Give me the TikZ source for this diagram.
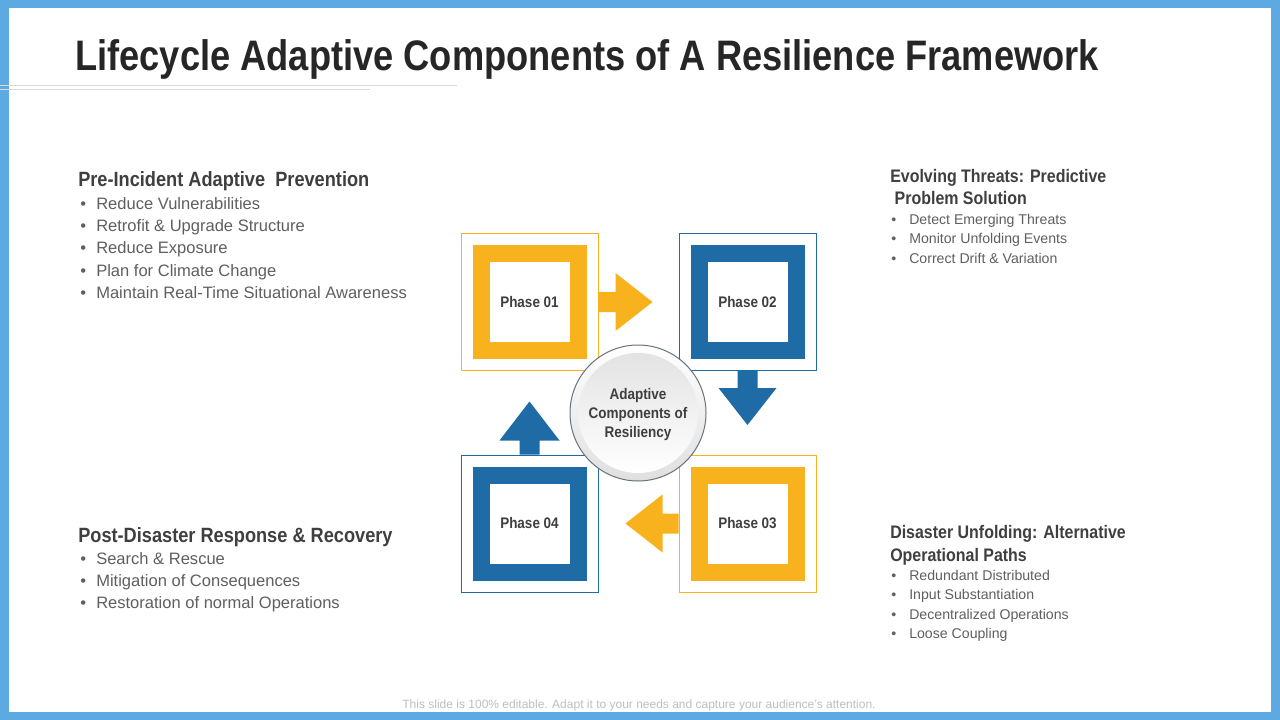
\documentclass[tikz,border=0pt]{standalone}
\usepackage{fontspec}
\setmainfont{Liberation Sans}
\newfontfamily\titlefont{Liberation Sans}[FakeStretch=0.85]
\newfontfamily\condfont{Liberation Sans}[FakeStretch=0.88]
\usetikzlibrary{positioning,calc}
\definecolor{edge}{HTML}{5DA9E1}
\definecolor{gold}{HTML}{F8B21D}
\definecolor{phaseblue}{HTML}{1F6BA5}
\definecolor{ink}{HTML}{3F3F3F}
\definecolor{titleink}{HTML}{262626}
\definecolor{muted}{HTML}{5F5F5F}
\definecolor{rulegray}{HTML}{D9D9D9}
\definecolor{notegray}{HTML}{BFBFBF}
\definecolor{hubline}{HTML}{66737D}

\begin{document}
\begin{tikzpicture}[x=0.75pt,y=-0.75pt,
  outerbox/.style={draw=#1,line width=0.75pt,minimum size=102.75pt,inner sep=0pt},
  phasebox/.style={draw=#1,fill=white,line width=12.75pt,minimum size=72.75pt,inner sep=0pt,
    text=ink,font=\condfont\bfseries\fontsize{11.5}{13}\selectfont},
  bighead/.style={anchor=base west,inner sep=0pt,text=ink,font=\condfont\bfseries\fontsize{15.5}{18}\selectfont},
  smallhead/.style={anchor=base west,inner sep=0pt,text=ink,font=\condfont\bfseries\fontsize{13.6}{16}\selectfont},
  bigitem/.style={anchor=base west,inner sep=0pt,text=muted,font=\fontsize{12.4}{15}\selectfont},
  smallitem/.style={anchor=base west,inner sep=0pt,text=muted,font=\fontsize{10.6}{13}\selectfont}]
  \useasboundingbox (0,0) rectangle (1280,720);
  % slide frame
  \fill[edge] (0,0) rectangle (1280,720);
  \fill[white] (9,8) rectangle (1271,712);
  \draw[rulegray,line width=0.75pt] (0,86) -- (457,86);
  \draw[rulegray,line width=0.75pt] (0,89.5) -- (370,89.5);
  \node[anchor=base west,inner sep=0pt,text=titleink,font=\titlefont\bfseries\fontsize{32}{36}\selectfont]
    (title) at (75,71) {Lifecycle Adaptive Components of A Resilience Framework};

  % phases
  \foreach \n/\x/\y/\c in {1/529.5/302/gold, 2/747.5/302/phaseblue, 3/747.5/523.5/gold, 4/529.5/523.5/phaseblue} {
    \node[outerbox=\c] (f\n) at (\x,\y) {};
    \node[phasebox=\c] (p\n) at (\x,\y) {Phase 0\n};
  }
  \fill[gold] (f1.east) ++(0,-10) -- ++(17,0) -- ++(0,-19) -- ++(37,29) -- ++(-37,29) -- ++(0,-19) -- ++(-17,0) -- cycle;
  \fill[phaseblue] (f2.south) ++(-10,0) -- ++(0,17) -- ++(-19,0) -- ++(29,37) -- ++(29,-37) -- ++(-19,0) -- ++(0,-17) -- cycle;
  \fill[gold] (f3.west) ++(0,-10) -- ++(-16,0) -- ++(0,-19) -- ++(-37,29) -- ++(37,29) -- ++(0,-19) -- ++(16,0) -- cycle;
  \fill[phaseblue] (f4.north) ++(-10,0) -- ++(0,-14) -- ++(-20,0) -- ++(30,-39) -- ++(30,39) -- ++(-20,0) -- ++(0,14) -- cycle;

  % centre disc
  \node[circle,draw=hubline,line width=0.75pt,minimum size=102pt,inner sep=0pt,
    top color=white,bottom color=gray!25] (hub) at (638,413) {};
  \node[circle,minimum size=90pt,inner sep=0pt,top color=gray!22,bottom color=white] (hubdisc) at (hub) {};
  \node[align=center,inner sep=0pt,text=ink,font=\condfont\bfseries\fontsize{11.5}{14.25}\selectfont]
    (hubtext) at (638,415) {Adaptive\\Components of\\Resiliency};

  % text blocks
  \node[bighead] (prehead) at (78,187) {Pre-Incident Adaptive\ \ Prevention};
  \foreach \t [count=\i] in {Reduce Vulnerabilities, Retrofit \& Upgrade Structure, Reduce Exposure,
      Plan for Climate Change, Maintain Real-Time Situational Awareness}
    \node[bigitem] (pre\i) at (80,187+22.3*\i) {\makebox[12pt][l]{\textbullet}\t};

  \node[bighead] (posthead) at (78,542) {Post-Disaster Response \& Recovery};
  \foreach \t [count=\i] in {Search \& Rescue, Mitigation of Consequences, Restoration of normal Operations}
    \node[bigitem] (post\i) at (80,542+22.3*\i) {\makebox[12pt][l]{\textbullet}\t};

  \node[smallhead] (evohead) at (890,183) {Evolving Threats: Predictive};
  \node[smallhead] (evohead2) at (890,205) {\ Problem Solution};
  \foreach \t [count=\i] in {Detect Emerging Threats, Monitor Unfolding Events, Correct Drift \& Variation}
    \node[smallitem] (evo\i) at (891,205+19.4*\i) {\makebox[13.5pt][l]{\textbullet}\t};

  \node[smallhead] (unfhead) at (890,538) {Disaster Unfolding: Alternative};
  \node[smallhead] (unfhead2) at (890,561) {Operational Paths};
  \foreach \t [count=\i] in {Redundant Distributed, Input Substantiation, Decentralized Operations, Loose Coupling}
    \node[smallitem] (unf\i) at (891,561+19.4*\i) {\makebox[13.5pt][l]{\textbullet}\t};

  \node[anchor=base,inner sep=0pt,text=notegray,font=\fontsize{9}{11}\selectfont] (note) at (639,708)
    {This slide is 100\% editable. Adapt it to your needs and capture your audience's attention.};
\end{tikzpicture}
\end{document}
